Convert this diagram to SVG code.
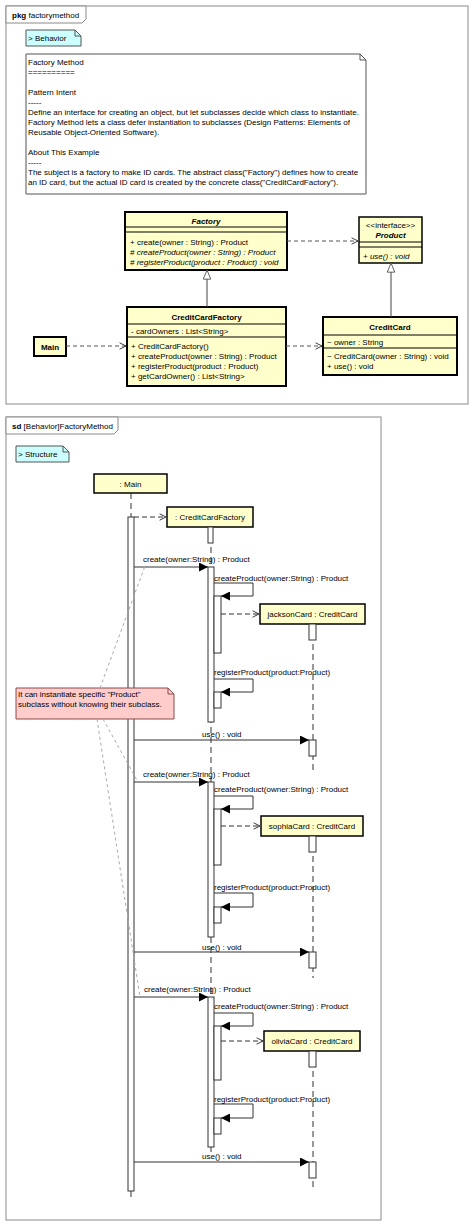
<svg xmlns="http://www.w3.org/2000/svg" width="474" height="1227" viewBox="0 0 474 1227">
<defs>
<style>
text{font-family:"Liberation Sans",Arial,sans-serif;font-size:8px;fill:#000}
.b{font-weight:bold}
.i{font-style:italic}
.bi{font-weight:bold;font-style:italic}
.mid{text-anchor:middle}
.frame{fill:none;stroke:#8a8a8a;stroke-width:1}
.tab{fill:#fff;stroke:#8a8a8a;stroke-width:1}
.cls{fill:#ffffcc;stroke:#000;stroke-width:2}
.clsT{fill:#ffffcc;stroke:#000;stroke-width:1.5}
.sep{stroke:#000;stroke-width:1}
.dep{fill:none;stroke:#555;stroke-width:1;stroke-dasharray:4,3}
.gen{fill:none;stroke:#444;stroke-width:1}
.life{fill:none;stroke:#333;stroke-width:1;stroke-dasharray:6,4}
.act{fill:#fff;stroke:#333;stroke-width:1}
.msg{fill:none;stroke:#333;stroke-width:1}
.cre{fill:none;stroke:#333;stroke-width:1;stroke-dasharray:5,3}
.obj{fill:#ffffcc;stroke:#000;stroke-width:1.5}
.anc{fill:none;stroke:#aaa;stroke-width:1;stroke-dasharray:3,3}
</style>
<marker id="open" viewBox="0 0 10 10" refX="9" refY="5" markerWidth="8" markerHeight="8" markerUnits="userSpaceOnUse" orient="auto"><path d="M1,1 L9,5 L1,9" fill="none" stroke="#333" stroke-width="1.2"/></marker>
<marker id="fill" viewBox="0 0 10 10" refX="10" refY="5" markerWidth="9" markerHeight="9" markerUnits="userSpaceOnUse" orient="auto"><path d="M0,0 L10,5 L0,10 Z" fill="#000"/></marker>
<marker id="tri" viewBox="0 0 12 10" refX="11.5" refY="5" markerWidth="10" markerHeight="9" markerUnits="userSpaceOnUse" orient="auto"><path d="M0.5,0.5 L11.5,5 L0.5,9.5 Z" fill="#fff" stroke="#444" stroke-width="1"/></marker>
</defs>
<rect width="474" height="1227" fill="#fff"/>

<!-- Package frame -->
<g id="pkg-frame">
<rect class="frame" x="6" y="6" width="462" height="398"/>
<path class="tab" d="M6,6 H86 V19 L82,23 H6 Z"/>
<text x="12" y="18"><tspan class="b">pkg</tspan> factorymethod</text>
</g>

<g id="note-behavior">
<path d="M26,30 H75 L81,36 V46 H26 Z" fill="#ccffff" stroke="#555" stroke-width="1"/>
<path d="M75,30 V36 H81" fill="none" stroke="#555" stroke-width="1"/>
<text x="28" y="41">&gt; Behavior</text>
</g>

<g id="note-intent">
<path d="M26,54 H360 L366,60 V194 H26 Z" fill="#fff" stroke="#555" stroke-width="1"/>
<path d="M360,54 V60 H366" fill="none" stroke="#555" stroke-width="1"/>
<text x="28" y="64.7">Factory Method<tspan x="28" dy="10">==========</tspan><tspan x="28" dy="20">Pattern Intent</tspan><tspan x="28" dy="10">-----</tspan><tspan x="28" dy="10">Define an interface for creating an object, but let subclasses decide which class to instantiate.</tspan><tspan x="28" dy="10">Factory Method lets a class defer instantiation to subclasses (Design Patterns: Elements of</tspan><tspan x="28" dy="10">Reusable Object-Oriented Software).</tspan><tspan x="28" dy="20">About This Example</tspan><tspan x="28" dy="10">-----</tspan><tspan x="28" dy="10">The subject is a factory to make ID cards. The abstract class("Factory") defines how to create</tspan><tspan x="28" dy="10">an ID card, but the actual ID card is created by the concrete class("CreditCardFactory").</tspan></text>
</g>

<g id="class-Factory">
<rect class="cls" x="125" y="212" width="162" height="58"/>
<line class="sep" x1="125" y1="227" x2="287" y2="227"/>
<line class="sep" x1="125" y1="232" x2="287" y2="232"/>
<text class="bi mid" x="206" y="224">Factory</text>
<text x="130" y="245">+ create(owner : String) : Product</text>
<text class="i" x="130" y="255"># createProduct(owner : String) : Product</text>
<text class="i" x="130" y="265"># registerProduct(product : Product) : void</text>
</g>

<g id="class-CreditCardFactory">
<rect class="cls" x="127" y="307" width="159" height="79"/>
<line class="sep" x1="127" y1="324" x2="286" y2="324"/>
<line class="sep" x1="127" y1="337" x2="286" y2="337"/>
<text class="b mid" x="206.5" y="320">CreditCardFactory</text>
<text x="131" y="334">- cardOwners : List&lt;String&gt;</text>
<text x="131" y="349">+ CreditCardFactory()</text>
<text x="131" y="359">+ createProduct(owner : String) : Product</text>
<text x="131" y="369">+ registerProduct(product : Product)</text>
<text x="131" y="379">+ getCardOwner() : List&lt;String&gt;</text>
</g>

<g id="class-Main">
<rect class="cls" x="34" y="337" width="32" height="19"/>
<text class="b mid" x="50" y="349.5">Main</text>
</g>

<g id="class-Product">
<rect class="clsT" x="359" y="217" width="63" height="46"/>
<line class="sep" x1="359" y1="242" x2="422" y2="242"/>
<line class="sep" x1="359" y1="247" x2="422" y2="247"/>
<text class="mid" x="390.5" y="228">&lt;&lt;interface&gt;&gt;</text>
<text class="bi mid" x="390.5" y="238">Product</text>
<text class="i" x="363" y="259">+ use() : void</text>
</g>

<g id="class-CreditCard">
<rect class="cls" x="323" y="317" width="134" height="58"/>
<line class="sep" x1="323" y1="335" x2="457" y2="335"/>
<line class="sep" x1="323" y1="348" x2="457" y2="348"/>
<text class="b mid" x="390" y="330">CreditCard</text>
<text x="327" y="345">~ owner : String</text>
<text x="327" y="359">~ CreditCard(owner : String) : void</text>
<text x="327" y="369">+ use() : void</text>
</g>

<g id="class-connectors">
<line class="gen" x1="207" y1="307" x2="207" y2="270" marker-end="url(#tri)"/>
<line class="gen" x1="391" y1="317" x2="391" y2="263" marker-end="url(#tri)"/>
<line class="dep" x1="66" y1="346" x2="126" y2="346" marker-end="url(#open)"/>
<line class="dep" x1="287" y1="241" x2="358" y2="241" marker-end="url(#open)"/>
<line class="dep" x1="286" y1="346" x2="322" y2="346" marker-end="url(#open)"/>
</g>

<!-- Sequence diagram frame -->
<g id="sd-frame">
<rect class="frame" x="6" y="417" width="375" height="803"/>
<path class="tab" d="M6,417 H118 V430 L114,434 H6 Z"/>
<text x="12" y="429"><tspan class="b">sd</tspan> [Behavior]FactoryMethod</text>
</g>

<g id="note-structure">
<path d="M16,446 H63 L69,452 V462 H16 Z" fill="#ccffff" stroke="#555" stroke-width="1"/>
<path d="M63,446 V452 H69" fill="none" stroke="#555" stroke-width="1"/>
<text x="18" y="457">&gt; Structure</text>
</g>

<g id="lifeline-Main">
<rect class="obj" x="94" y="474" width="73" height="19"/>
<text class="mid" x="130.5" y="486.5">: Main</text>
<line class="life" x1="131" y1="493" x2="131" y2="517"/>
<rect class="act" x="128" y="517" width="6" height="674"/>
<line class="life" x1="131" y1="1191" x2="131" y2="1201"/>
</g>

<g id="lifeline-CreditCardFactory">
<rect class="obj" x="167" y="507" width="86" height="20"/>
<text class="mid" x="210" y="520">: CreditCardFactory</text>
<line class="life" x1="211" y1="527" x2="211" y2="1152"/>
<rect class="act" x="208" y="527" width="5" height="16"/>
<rect class="act" x="208" y="567" width="6" height="155"/>
<rect class="act" x="214" y="596" width="7" height="57"/>
<rect class="act" x="214" y="692" width="7" height="16"/>
<rect class="act" x="208" y="782" width="6" height="155"/>
<rect class="act" x="214" y="809" width="7" height="56"/>
<rect class="act" x="214" y="907" width="7" height="16"/>
<rect class="act" x="208" y="997" width="6" height="150"/>
<rect class="act" x="214" y="1026" width="7" height="54"/>
<rect class="act" x="214" y="1118" width="7" height="16"/>
</g>

<g id="lifeline-jacksonCard">
<rect class="obj" x="260" y="604" width="105" height="20"/>
<text class="mid" x="312.5" y="617">jacksonCard : CreditCard</text>
<line class="life" x1="313" y1="624" x2="313" y2="770"/>
<rect class="act" x="309" y="624" width="7" height="16"/>
<rect class="act" x="309" y="740" width="7" height="16"/>
</g>

<g id="lifeline-sophiaCard">
<rect class="obj" x="261" y="816" width="102" height="20"/>
<text class="mid" x="312" y="829">sophiaCard : CreditCard</text>
<line class="life" x1="313" y1="836" x2="313" y2="978"/>
<rect class="act" x="309" y="836" width="7" height="16"/>
<rect class="act" x="309" y="952" width="7" height="16"/>
</g>

<g id="lifeline-oliviaCard">
<rect class="obj" x="264" y="1031" width="96" height="20"/>
<text class="mid" x="312" y="1044">oliviaCard : CreditCard</text>
<line class="life" x1="313" y1="1051" x2="313" y2="1187"/>
<rect class="act" x="309" y="1051" width="7" height="16"/>
<rect class="act" x="309" y="1162" width="7" height="16"/>
</g>

<g id="note-instantiate">
<path d="M16,688 H168 L174,694 V719 H16 Z" fill="#ffcccc" stroke="#8b4b4b" stroke-width="1"/>
<path d="M168,688 V694 H174" fill="none" stroke="#8b4b4b" stroke-width="1"/>
<text x="18" y="697">It can instantiate specific "Product"<tspan x="18" dy="10">subclass without knowing their subclass.</tspan></text>
</g>

<g id="messages">
<line class="cre" x1="134" y1="517" x2="166" y2="517" marker-end="url(#open)"/>
<!-- round 1 -->
<line class="msg" x1="134" y1="567" x2="208" y2="567" marker-end="url(#fill)"/>
<text x="143" y="562">create(owner:String) : Product</text>
<path class="msg" d="M214,583 H253 V596 H221" marker-end="url(#fill)"/>
<text x="214" y="581">createProduct(owner:String) : Product</text>
<line class="cre" x1="221" y1="614" x2="259" y2="614" marker-end="url(#open)"/>
<path class="msg" d="M214,679 H253 V692 H221" marker-end="url(#fill)"/>
<text x="214" y="675">registerProduct(product:Product)</text>
<line class="msg" x1="134" y1="740" x2="309" y2="740" marker-end="url(#fill)"/>
<text x="202" y="737">use() : void</text>
<!-- round 2 -->
<line class="msg" x1="134" y1="782" x2="208" y2="782" marker-end="url(#fill)"/>
<text x="143" y="777">create(owner:String) : Product</text>
<path class="msg" d="M214,796 H253 V809 H221" marker-end="url(#fill)"/>
<text x="214" y="792">createProduct(owner:String) : Product</text>
<line class="cre" x1="221" y1="826" x2="260" y2="826" marker-end="url(#open)"/>
<path class="msg" d="M214,893 H253 V907 H221" marker-end="url(#fill)"/>
<text x="214" y="890">registerProduct(product:Product)</text>
<line class="msg" x1="134" y1="952" x2="309" y2="952" marker-end="url(#fill)"/>
<text x="202" y="950">use() : void</text>
<!-- round 3 -->
<line class="msg" x1="134" y1="997" x2="208" y2="997" marker-end="url(#fill)"/>
<text x="144" y="992">create(owner:String) : Product</text>
<path class="msg" d="M214,1013 H253 V1026 H221" marker-end="url(#fill)"/>
<text x="214" y="1009">createProduct(owner:String) : Product</text>
<line class="cre" x1="221" y1="1041" x2="263" y2="1041" marker-end="url(#open)"/>
<path class="msg" d="M214,1104 H253 V1118 H221" marker-end="url(#fill)"/>
<text x="214" y="1102">registerProduct(product:Product)</text>
<line class="msg" x1="134" y1="1162" x2="309" y2="1162" marker-end="url(#fill)"/>
<text x="202" y="1159">use() : void</text>
<!-- note anchors -->
<line class="anc" x1="100" y1="688" x2="145" y2="566"/>
<line class="anc" x1="103" y1="719" x2="138" y2="782"/>
<line class="anc" x1="97" y1="719" x2="140" y2="997"/>
</g>
</svg>
